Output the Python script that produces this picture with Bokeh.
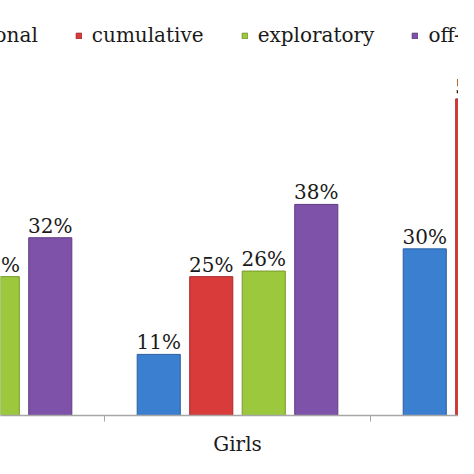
from bokeh.plotting import figure
from bokeh.models import ColumnDataSource, FixedTicker, Legend, LegendItem
from bokeh.core.properties import value
from bokeh.embed import file_html
from bokeh.resources import INLINE
import numpy as np

groups = ["Boys", "Girls", "Mixed"]
series = ["disputational", "cumulative", "exploratory", "off-task"]
disputational = [np.nan, 11, 30]
cumulative = [np.nan, 25, 57]
exploratory = [25, 26, np.nan]
off_task = [32, 38, np.nan]

colors = ["#3b7fd1", "#d93a3a", "#9cc83d", "#7e52a9"]
outlines = ["#2c5f9e", "#a82a2a", "#769a2c", "#5e3c80"]

FONT = "DejaVu Serif"

p = figure(
    width=458, height=458,
    x_range=(0.1090, 1.8308), y_range=(0, 74.71),
    y_axis_location=None,
    toolbar_location=None,
    output_backend="svg",
    min_border_left=0, min_border_right=0,
    min_border_top=0, min_border_bottom=43,
)
p.outline_line_color = None
p.xgrid.grid_line_color = None
p.ygrid.grid_line_color = None

step = 0.1974
offsets = [-1.5 * step, -0.5 * step, 0.5 * step, 1.5 * step]
items = []
for name, vals, col, oc, off in zip(series, [disputational, cumulative, exploratory, off_task],
                                    colors, outlines, offsets):
    xs = [i + off for i, v in enumerate(vals) if not np.isnan(v)]
    ys = [v for v in vals if not np.isnan(v)]
    src = ColumnDataSource(dict(x=xs, top=ys, label=[f"{v:.0f}%" for v in ys]))
    r = p.vbar(x="x", top="top", width=0.162, source=src,
               fill_color=col, line_color=oc, line_width=1)
    p.text(x="x", y="top", text="label", source=src,
           text_align="center", text_baseline="alphabetic", y_offset=-12,
           text_font=value(FONT), text_font_size="20px", text_color="#1a1a1a")
    items.append(LegendItem(label=name, renderers=[r]))

legend = Legend(items=items, orientation="horizontal", location=(-112, 368),
                glyph_width=7, glyph_height=7, label_standoff=10, spacing=37,
                padding=0, margin=0, border_line_color=None,
                background_fill_alpha=0,
                label_text_font=FONT, label_text_font_size="20px",
                label_text_color="#1a1a1a")
p.add_layout(legend, "center")

ax = p.xaxis[0]
ax.ticker = FixedTicker(ticks=[0, 1, 2], minor_ticks=[-0.5, 0.5, 1.5, 2.5])
ax.major_label_overrides = {i: g for i, g in enumerate(groups)}
ax.major_tick_line_color = None
ax.major_tick_out = 0
ax.major_tick_in = 0
ax.minor_tick_out = 6
ax.minor_tick_in = 0
ax.minor_tick_line_color = "#a6a6a6"
ax.axis_line_color = "#a6a6a6"
ax.axis_line_width = 1.5
ax.major_label_standoff = 10
ax.major_label_text_font = FONT
ax.major_label_text_font_size = "20px"
ax.major_label_text_color = "#1a1a1a"

open("out.html", "w").write(file_html(p, INLINE))
